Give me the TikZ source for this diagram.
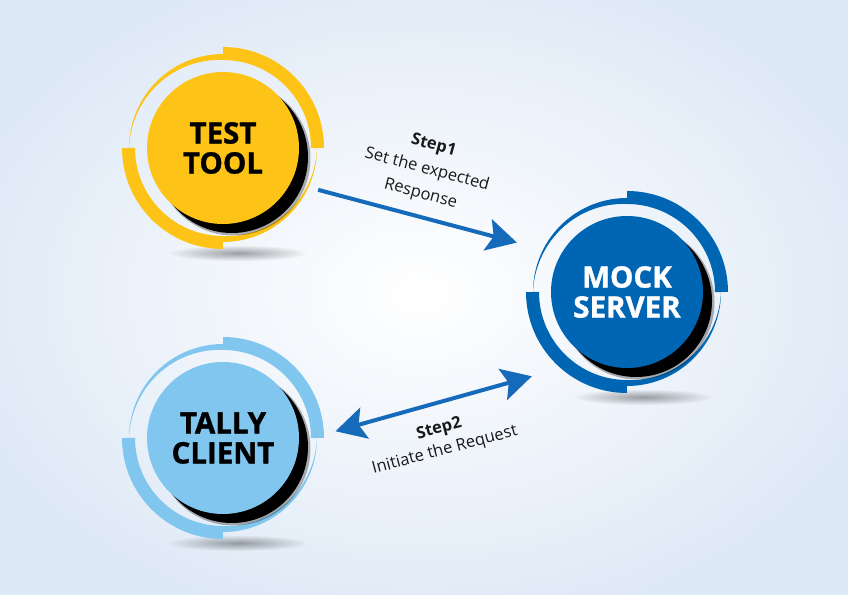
\documentclass[tikz,border=0pt]{standalone}
\usepackage{fontspec}
\setmainfont{Open Sans}
\newfontfamily\badgefont[BoldFeatures={FakeBold=1.2}]{Open Sans}
\usetikzlibrary{arrows.meta, fadings}
\definecolor{bgblue}{RGB}{222,233,246}
\definecolor{toolyellow}{RGB}{253,195,22}
\definecolor{mockblue}{RGB}{0,101,179}
\definecolor{tallyblue}{RGB}{128,198,238}
\definecolor{arrowblue}{RGB}{22,106,186}
\tikzfading[name=softspot, inner color=transparent!65, outer color=transparent!100]

\begin{document}
\begin{tikzpicture}[x=1pt,y=1pt,
  ring/.style={line width=13pt},
  shade under/.style={black, path fading=softspot},
  badge/.style={circle, minimum size=202pt, inner sep=0pt, outer sep=0pt, align=center,
    font=\badgefont\bfseries\fontsize{29.5}{30}\selectfont},
  steptext/.style={align=center, text=black!90, font=\fontsize{16.5}{25}\selectfont},
  flow/.style={arrowblue, line width=4pt},
  bighead/.tip={Stealth[length=30pt,width=32pt,inset=6pt]}]
  \useasboundingbox (0,0) rectangle (848,594);
  % background
  \shade[inner color=white, outer color=bgblue] (-60,-40) rectangle (900,640);

  % test tool
  \fill[shade under] (238,341) ellipse (70 and 8);
  \begin{scope}[shift={(223,446)}, toolyellow]
    \draw[ring] (90:94.5) arc[start angle=90, end angle=0, radius=94.5];
    \draw[ring] (180:94.5) arc[start angle=180, end angle=270, radius=94.5];
    \fill plot[domain=90:180, samples=40] (\x:{88+6*(\x-90)/90}) -- plot[domain=180:90, samples=40] (\x:94) -- cycle;
    \fill plot[domain=270:360, samples=40] (\x:{88+6*(\x-270)/90}) -- plot[domain=360:270, samples=40] (\x:94) -- cycle;
    \fill[black, opacity=.3] (10.5,-10.5) circle (77);
    \fill[black] (9,-9) circle (76);
    \fill (0,0) circle (76);
  \end{scope}
  \node[badge] (test) at (223,446) {TEST\\TOOL};

  % mock server
  \fill[shade under] (643,197) ellipse (70 and 8);
  \begin{scope}[shift={(627,302)}, mockblue]
    \draw[ring] (90:94.5) arc[start angle=90, end angle=0, radius=94.5];
    \draw[ring] (180:94.5) arc[start angle=180, end angle=270, radius=94.5];
    \fill plot[domain=90:180, samples=40] (\x:{88+6*(\x-90)/90}) -- plot[domain=180:90, samples=40] (\x:94) -- cycle;
    \fill plot[domain=270:360, samples=40] (\x:{88+6*(\x-270)/90}) -- plot[domain=360:270, samples=40] (\x:94) -- cycle;
    \fill[black, opacity=.3] (10.5,-10.5) circle (77);
    \fill[black] (9,-9) circle (76);
    \fill (0,0) circle (76);
  \end{scope}
  \node[badge, text=white] (mock) at (627,302) {MOCK\\SERVER};

  % tally client
  \fill[shade under] (238,51) ellipse (70 and 8);
  \begin{scope}[shift={(223,156)}, tallyblue]
    \draw[ring] (90:94.5) arc[start angle=90, end angle=0, radius=94.5];
    \draw[ring] (180:94.5) arc[start angle=180, end angle=270, radius=94.5];
    \fill plot[domain=90:180, samples=40] (\x:{88+6*(\x-90)/90}) -- plot[domain=180:90, samples=40] (\x:94) -- cycle;
    \fill plot[domain=270:360, samples=40] (\x:{88+6*(\x-270)/90}) -- plot[domain=360:270, samples=40] (\x:94) -- cycle;
    \fill[black, opacity=.3] (10.5,-10.5) circle (77);
    \fill[black] (9,-9) circle (76);
    \fill (0,0) circle (76);
  \end{scope}
  \node[badge] (tally) at (223,156) {TALLY\\CLIENT};

  % steps
  \draw[flow, -bighead, shorten <=3pt, shorten >=20pt] (test.-24) -- (mock.154);
  \draw[flow, bighead-bighead, shorten <=12pt, shorten >=30pt] (tally.2) -- (mock.229);
  \node[steptext, rotate=-15] (step1) at (427,424) {\textbf{Step1}\\Set the expected\\Response};
  \node[steptext, rotate=15, font=\fontsize{16.5}{22}\selectfont] (step2) at (442,154) {\textbf{Step2}\\Initiate the Request};
\end{tikzpicture}
\end{document}
